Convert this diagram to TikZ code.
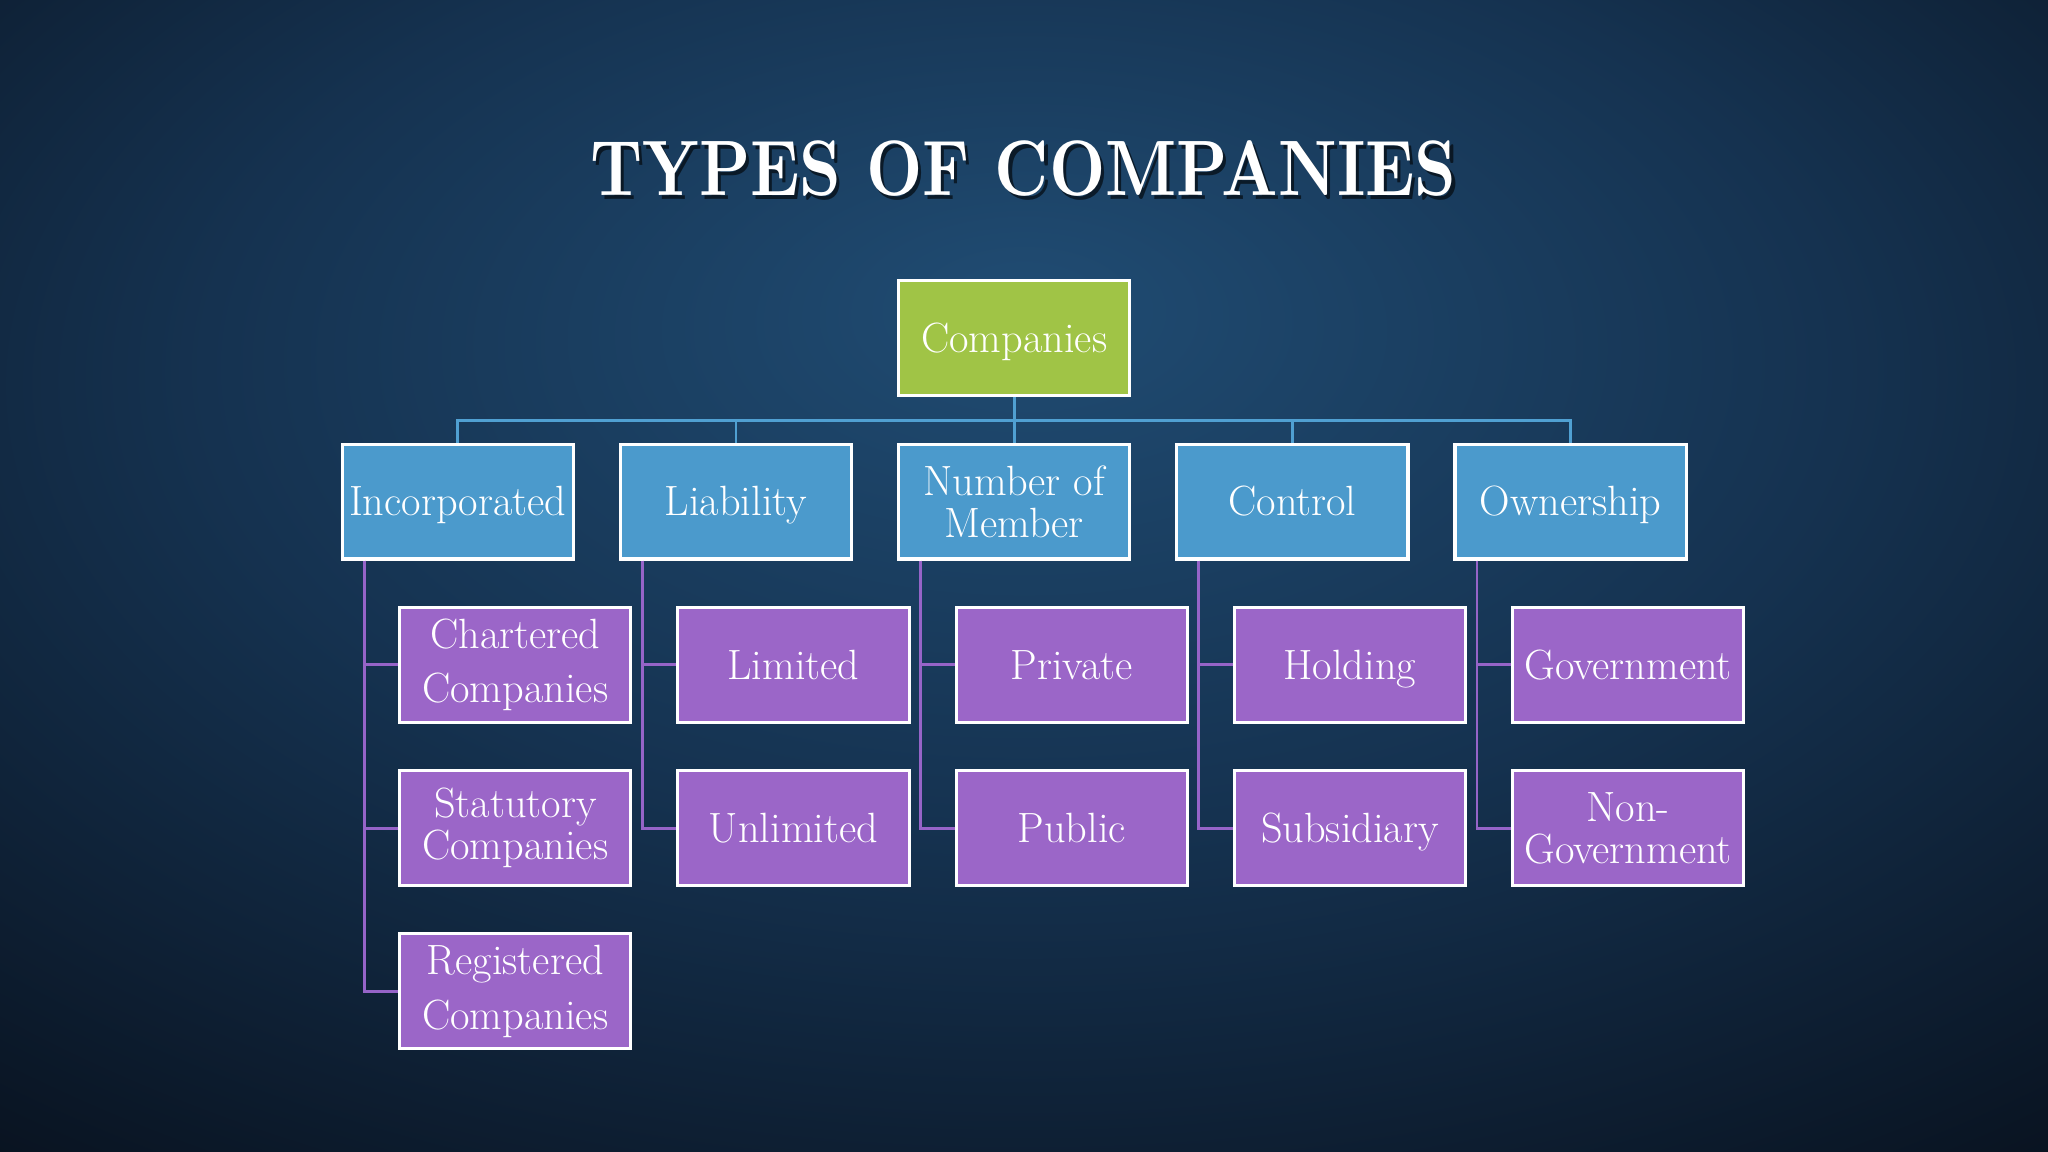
\documentclass[tikz,border=0pt]{standalone}
\usepackage{fontspec}
\usetikzlibrary{calc}
\definecolor{bgin}{RGB}{32,76,115}
\definecolor{bgmid}{RGB}{21,50,80}
\definecolor{bgout}{RGB}{8,16,28}
\definecolor{boxblue}{RGB}{75,154,204}
\definecolor{boxgreen}{RGB}{160,196,70}
\definecolor{boxpurple}{RGB}{155,102,200}
\definecolor{lineblue}{RGB}{80,160,210}
\definecolor{linepurple}{RGB}{150,100,200}
\pgfdeclareradialshading{bgshade}{\pgfpoint{0bp}{12bp}}{color(0bp)=(bgin); color(20bp)=(bgmid); color(42bp)=(bgout); color(80bp)=(bgout)}
\tikzset{
  card/.style={draw=white, line width=1.2pt, minimum width=88.5pt, minimum height=44pt,
    inner sep=1pt, text=white, align=center, font=\fontsize{16.2}{16}\selectfont},
  oneline/.style={text height=12.5pt, text depth=1.5pt},
  bluecard/.style={card, fill=boxblue},
  greencard/.style={card, fill=boxgreen},
  purplecard/.style={card, fill=boxpurple},
  bluelink/.style={draw=lineblue, line width=1.1pt},
  purplelink/.style={draw=linepurple, line width=1.1pt},
}
\begin{document}
\begin{tikzpicture}[x=0.5pt,y=-0.5pt]
\useasboundingbox (0,0) rectangle (1568,882);
\shade[shading=bgshade] (0,0) rectangle (1568,882);
% title
\node[anchor=base, text=black, opacity=0.6] (titleshadow) at (786,153)
  {\resizebox{331.5pt}{21pt}{\bfseries TYPES OF COMPANIES}};
\node[anchor=base, text=white] (title) at (783.5,150)
  {\resizebox{331.5pt}{21pt}{\bfseries TYPES OF COMPANIES}};
% root
\node[greencard, oneline] (comp) at (776.5,259) {Companies};
% level 1
\node[bluecard, oneline] (inc) at (350.5,384) {Incorporated};
\node[bluecard, oneline] (lia) at (563.5,384) {Liability};
\node[bluecard] (mem) at (776.5,384) {Number of\\Member};
\node[bluecard, oneline] (con) at (989.5,384) {Control};
\node[bluecard, oneline] (own) at (1202.5,384) {Ownership};
% level 2
\node[purplecard] (chart) at (394.5,509) {Chartered\\[5pt]Companies};
\node[purplecard] (stat) at (394.5,634) {Statutory\\Companies};
\node[purplecard] (reg) at (394.5,759) {Registered\\[5pt]Companies};
\node[purplecard, oneline] (lim) at (607.5,509) {Limited};
\node[purplecard, oneline] (unl) at (607.5,634) {Unlimited};
\node[purplecard, oneline] (priv) at (820.5,509) {Private};
\node[purplecard, oneline] (pub) at (820.5,634) {Public};
\node[purplecard, oneline] (hold) at (1033.5,509) {Holding};
\node[purplecard, oneline] (sub) at (1033.5,634) {Subsidiary};
\node[purplecard, oneline] (gov) at (1246.5,509) {Government};
\node[purplecard] (ngov) at (1246.5,634) {Non-\\Government};
% blue connectors
\coordinate (bus) at (0,322);
\draw[bluelink] (inc.north) -- (inc.north |- bus) -- (own.north |- bus) -- (own.north);
\draw[bluelink] (lia.north) -- (lia.north |- bus);
\draw[bluelink] (con.north) -- (con.north |- bus);
\draw[bluelink] (comp.south) -- (mem.north);
% purple connectors
\coordinate (incv) at ([xshift=9pt]inc.south west);
\coordinate (liav) at ([xshift=9pt]lia.south west);
\coordinate (memv) at ([xshift=9pt]mem.south west);
\coordinate (conv) at ([xshift=9pt]con.south west);
\coordinate (ownv) at ([xshift=9pt]own.south west);
\draw[purplelink] (incv) |- (chart.west);
\draw[purplelink] (incv) |- (stat.west);
\draw[purplelink] (incv) |- (reg.west);
\draw[purplelink] (liav) |- (lim.west);
\draw[purplelink] (liav) |- (unl.west);
\draw[purplelink] (memv) |- (priv.west);
\draw[purplelink] (memv) |- (pub.west);
\draw[purplelink] (conv) |- (hold.west);
\draw[purplelink] (conv) |- (sub.west);
\draw[purplelink] (ownv) |- (gov.west);
\draw[purplelink] (ownv) |- (ngov.west);
\end{tikzpicture}
\end{document}
